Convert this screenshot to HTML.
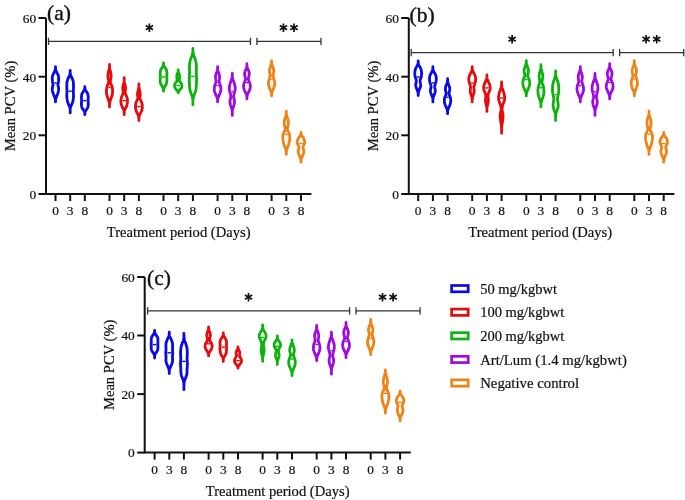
<!DOCTYPE html>
<html><head><meta charset="utf-8"><style>
html,body{margin:0;padding:0;background:#fff;}
svg{display:block;will-change:transform;}
text{font-family:"Liberation Serif",serif;stroke:#111;stroke-width:0.2px;}
</style></head><body>
<svg width="685" height="500" viewBox="0 0 685 500">
<rect width="685" height="500" fill="#fff"/>
<path d="M46.0,18.0 V194.0 H311.4" fill="none" stroke="#111" stroke-width="2"/>
<line x1="38.5" y1="194.0" x2="46.0" y2="194.0" stroke="#111" stroke-width="2"/>
<text x="36.2" y="198.8" text-anchor="end" font-size="13.4" font-family="Liberation Serif, serif" fill="#111">0</text>
<line x1="38.5" y1="135.3" x2="46.0" y2="135.3" stroke="#111" stroke-width="2"/>
<text x="36.2" y="140.1" text-anchor="end" font-size="13.4" font-family="Liberation Serif, serif" fill="#111">20</text>
<line x1="38.5" y1="76.7" x2="46.0" y2="76.7" stroke="#111" stroke-width="2"/>
<text x="36.2" y="81.5" text-anchor="end" font-size="13.4" font-family="Liberation Serif, serif" fill="#111">40</text>
<line x1="38.5" y1="18.0" x2="46.0" y2="18.0" stroke="#111" stroke-width="2"/>
<text x="36.2" y="22.8" text-anchor="end" font-size="13.4" font-family="Liberation Serif, serif" fill="#111">60</text>
<line x1="55.5" y1="194.0" x2="55.5" y2="201.0" stroke="#111" stroke-width="2"/>
<text x="55.5" y="215.0" text-anchor="middle" font-size="13.4" font-family="Liberation Serif, serif" fill="#111">0</text>
<line x1="70.2" y1="194.0" x2="70.2" y2="201.0" stroke="#111" stroke-width="2"/>
<text x="70.2" y="215.0" text-anchor="middle" font-size="13.4" font-family="Liberation Serif, serif" fill="#111">3</text>
<line x1="84.8" y1="194.0" x2="84.8" y2="201.0" stroke="#111" stroke-width="2"/>
<text x="84.8" y="215.0" text-anchor="middle" font-size="13.4" font-family="Liberation Serif, serif" fill="#111">8</text>
<line x1="109.5" y1="194.0" x2="109.5" y2="201.0" stroke="#111" stroke-width="2"/>
<text x="109.5" y="215.0" text-anchor="middle" font-size="13.4" font-family="Liberation Serif, serif" fill="#111">0</text>
<line x1="124.2" y1="194.0" x2="124.2" y2="201.0" stroke="#111" stroke-width="2"/>
<text x="124.2" y="215.0" text-anchor="middle" font-size="13.4" font-family="Liberation Serif, serif" fill="#111">3</text>
<line x1="138.9" y1="194.0" x2="138.9" y2="201.0" stroke="#111" stroke-width="2"/>
<text x="138.9" y="215.0" text-anchor="middle" font-size="13.4" font-family="Liberation Serif, serif" fill="#111">8</text>
<line x1="163.5" y1="194.0" x2="163.5" y2="201.0" stroke="#111" stroke-width="2"/>
<text x="163.5" y="215.0" text-anchor="middle" font-size="13.4" font-family="Liberation Serif, serif" fill="#111">0</text>
<line x1="178.2" y1="194.0" x2="178.2" y2="201.0" stroke="#111" stroke-width="2"/>
<text x="178.2" y="215.0" text-anchor="middle" font-size="13.4" font-family="Liberation Serif, serif" fill="#111">3</text>
<line x1="192.9" y1="194.0" x2="192.9" y2="201.0" stroke="#111" stroke-width="2"/>
<text x="192.9" y="215.0" text-anchor="middle" font-size="13.4" font-family="Liberation Serif, serif" fill="#111">8</text>
<line x1="217.6" y1="194.0" x2="217.6" y2="201.0" stroke="#111" stroke-width="2"/>
<text x="217.6" y="215.0" text-anchor="middle" font-size="13.4" font-family="Liberation Serif, serif" fill="#111">0</text>
<line x1="232.3" y1="194.0" x2="232.3" y2="201.0" stroke="#111" stroke-width="2"/>
<text x="232.3" y="215.0" text-anchor="middle" font-size="13.4" font-family="Liberation Serif, serif" fill="#111">3</text>
<line x1="246.9" y1="194.0" x2="246.9" y2="201.0" stroke="#111" stroke-width="2"/>
<text x="246.9" y="215.0" text-anchor="middle" font-size="13.4" font-family="Liberation Serif, serif" fill="#111">8</text>
<line x1="271.6" y1="194.0" x2="271.6" y2="201.0" stroke="#111" stroke-width="2"/>
<text x="271.6" y="215.0" text-anchor="middle" font-size="13.4" font-family="Liberation Serif, serif" fill="#111">0</text>
<line x1="286.3" y1="194.0" x2="286.3" y2="201.0" stroke="#111" stroke-width="2"/>
<text x="286.3" y="215.0" text-anchor="middle" font-size="13.4" font-family="Liberation Serif, serif" fill="#111">3</text>
<line x1="301.0" y1="194.0" x2="301.0" y2="201.0" stroke="#111" stroke-width="2"/>
<text x="301.0" y="215.0" text-anchor="middle" font-size="13.4" font-family="Liberation Serif, serif" fill="#111">8</text>
<text x="178.7" y="237.0" text-anchor="middle" font-size="14.6" font-family="Liberation Serif, serif" fill="#111">Treatment period (Days)</text>
<text transform="translate(15.0,106.0) rotate(-90)" text-anchor="middle" font-size="14.6" font-family="Liberation Serif, serif" fill="#111">Mean PCV (%)</text>
<text x="47.0" y="20.2" font-size="21.5" style="stroke-width:0.4px" font-family="Liberation Serif, serif" fill="#111">(a)</text>
<path d="M48.5,41.3 H250.5 M48.5,37.7 V44.9 M250.5,37.7 V44.9" fill="none" stroke="#333" stroke-width="1.3"/>
<path d="M256.9,41.3 H321.0 M256.9,37.7 V44.9 M321.0,37.7 V44.9" fill="none" stroke="#333" stroke-width="1.3"/>
<path d="M149.40,23.50 L149.40,31.90 M145.76,25.60 L153.04,29.80 M145.76,29.80 L153.04,25.60" stroke="#111" stroke-width="1.7"/>
<path d="M283.40,23.50 L283.40,31.90 M279.76,25.60 L287.04,29.80 M279.76,29.80 L287.04,25.60" stroke="#111" stroke-width="1.7"/>
<path d="M294.00,23.50 L294.00,31.90 M290.36,25.60 L297.64,29.80 M290.36,29.80 L297.64,25.60" stroke="#111" stroke-width="1.7"/>
<path d="M408.8,18.0 V194.0 H674.3" fill="none" stroke="#111" stroke-width="2"/>
<line x1="401.2" y1="194.0" x2="408.8" y2="194.0" stroke="#111" stroke-width="2"/>
<text x="398.9" y="198.8" text-anchor="end" font-size="13.4" font-family="Liberation Serif, serif" fill="#111">0</text>
<line x1="401.2" y1="135.3" x2="408.8" y2="135.3" stroke="#111" stroke-width="2"/>
<text x="398.9" y="140.1" text-anchor="end" font-size="13.4" font-family="Liberation Serif, serif" fill="#111">20</text>
<line x1="401.2" y1="76.7" x2="408.8" y2="76.7" stroke="#111" stroke-width="2"/>
<text x="398.9" y="81.5" text-anchor="end" font-size="13.4" font-family="Liberation Serif, serif" fill="#111">40</text>
<line x1="401.2" y1="18.0" x2="408.8" y2="18.0" stroke="#111" stroke-width="2"/>
<text x="398.9" y="22.8" text-anchor="end" font-size="13.4" font-family="Liberation Serif, serif" fill="#111">60</text>
<line x1="418.2" y1="194.0" x2="418.2" y2="201.0" stroke="#111" stroke-width="2"/>
<text x="418.2" y="215.0" text-anchor="middle" font-size="13.4" font-family="Liberation Serif, serif" fill="#111">0</text>
<line x1="432.9" y1="194.0" x2="432.9" y2="201.0" stroke="#111" stroke-width="2"/>
<text x="432.9" y="215.0" text-anchor="middle" font-size="13.4" font-family="Liberation Serif, serif" fill="#111">3</text>
<line x1="447.6" y1="194.0" x2="447.6" y2="201.0" stroke="#111" stroke-width="2"/>
<text x="447.6" y="215.0" text-anchor="middle" font-size="13.4" font-family="Liberation Serif, serif" fill="#111">8</text>
<line x1="472.2" y1="194.0" x2="472.2" y2="201.0" stroke="#111" stroke-width="2"/>
<text x="472.2" y="215.0" text-anchor="middle" font-size="13.4" font-family="Liberation Serif, serif" fill="#111">0</text>
<line x1="486.9" y1="194.0" x2="486.9" y2="201.0" stroke="#111" stroke-width="2"/>
<text x="486.9" y="215.0" text-anchor="middle" font-size="13.4" font-family="Liberation Serif, serif" fill="#111">3</text>
<line x1="501.6" y1="194.0" x2="501.6" y2="201.0" stroke="#111" stroke-width="2"/>
<text x="501.6" y="215.0" text-anchor="middle" font-size="13.4" font-family="Liberation Serif, serif" fill="#111">8</text>
<line x1="526.3" y1="194.0" x2="526.3" y2="201.0" stroke="#111" stroke-width="2"/>
<text x="526.3" y="215.0" text-anchor="middle" font-size="13.4" font-family="Liberation Serif, serif" fill="#111">0</text>
<line x1="540.9" y1="194.0" x2="540.9" y2="201.0" stroke="#111" stroke-width="2"/>
<text x="540.9" y="215.0" text-anchor="middle" font-size="13.4" font-family="Liberation Serif, serif" fill="#111">3</text>
<line x1="555.6" y1="194.0" x2="555.6" y2="201.0" stroke="#111" stroke-width="2"/>
<text x="555.6" y="215.0" text-anchor="middle" font-size="13.4" font-family="Liberation Serif, serif" fill="#111">8</text>
<line x1="580.3" y1="194.0" x2="580.3" y2="201.0" stroke="#111" stroke-width="2"/>
<text x="580.3" y="215.0" text-anchor="middle" font-size="13.4" font-family="Liberation Serif, serif" fill="#111">0</text>
<line x1="595.0" y1="194.0" x2="595.0" y2="201.0" stroke="#111" stroke-width="2"/>
<text x="595.0" y="215.0" text-anchor="middle" font-size="13.4" font-family="Liberation Serif, serif" fill="#111">3</text>
<line x1="609.7" y1="194.0" x2="609.7" y2="201.0" stroke="#111" stroke-width="2"/>
<text x="609.7" y="215.0" text-anchor="middle" font-size="13.4" font-family="Liberation Serif, serif" fill="#111">8</text>
<line x1="634.3" y1="194.0" x2="634.3" y2="201.0" stroke="#111" stroke-width="2"/>
<text x="634.3" y="215.0" text-anchor="middle" font-size="13.4" font-family="Liberation Serif, serif" fill="#111">0</text>
<line x1="649.0" y1="194.0" x2="649.0" y2="201.0" stroke="#111" stroke-width="2"/>
<text x="649.0" y="215.0" text-anchor="middle" font-size="13.4" font-family="Liberation Serif, serif" fill="#111">3</text>
<line x1="663.7" y1="194.0" x2="663.7" y2="201.0" stroke="#111" stroke-width="2"/>
<text x="663.7" y="215.0" text-anchor="middle" font-size="13.4" font-family="Liberation Serif, serif" fill="#111">8</text>
<text x="540.2" y="237.0" text-anchor="middle" font-size="14.6" font-family="Liberation Serif, serif" fill="#111">Treatment period (Days)</text>
<text transform="translate(377.8,106.0) rotate(-90)" text-anchor="middle" font-size="14.6" font-family="Liberation Serif, serif" fill="#111">Mean PCV (%)</text>
<text x="409.6" y="22.2" font-size="21.5" style="stroke-width:0.4px" font-family="Liberation Serif, serif" fill="#111">(b)</text>
<path d="M411.2,52.7 H613.2 M411.2,49.1 V56.3 M613.2,49.1 V56.3" fill="none" stroke="#333" stroke-width="1.3"/>
<path d="M619.6,52.7 H683.7 M619.6,49.1 V56.3 M683.7,49.1 V56.3" fill="none" stroke="#333" stroke-width="1.3"/>
<path d="M512.12,35.00 L512.12,43.40 M508.48,37.10 L515.76,41.30 M508.48,41.30 L515.76,37.10" stroke="#111" stroke-width="1.7"/>
<path d="M646.12,35.00 L646.12,43.40 M642.48,37.10 L649.76,41.30 M642.48,41.30 L649.76,37.10" stroke="#111" stroke-width="1.7"/>
<path d="M656.72,35.00 L656.72,43.40 M653.08,37.10 L660.36,41.30 M653.08,41.30 L660.36,37.10" stroke="#111" stroke-width="1.7"/>
<path d="M144.7,277.0 V452.6 H410.8" fill="none" stroke="#111" stroke-width="2"/>
<line x1="137.2" y1="452.6" x2="144.7" y2="452.6" stroke="#111" stroke-width="2"/>
<text x="134.8" y="457.4" text-anchor="end" font-size="13.4" font-family="Liberation Serif, serif" fill="#111">0</text>
<line x1="137.2" y1="394.1" x2="144.7" y2="394.1" stroke="#111" stroke-width="2"/>
<text x="134.8" y="398.9" text-anchor="end" font-size="13.4" font-family="Liberation Serif, serif" fill="#111">20</text>
<line x1="137.2" y1="335.5" x2="144.7" y2="335.5" stroke="#111" stroke-width="2"/>
<text x="134.8" y="340.3" text-anchor="end" font-size="13.4" font-family="Liberation Serif, serif" fill="#111">40</text>
<line x1="137.2" y1="277.0" x2="144.7" y2="277.0" stroke="#111" stroke-width="2"/>
<text x="134.8" y="281.8" text-anchor="end" font-size="13.4" font-family="Liberation Serif, serif" fill="#111">60</text>
<line x1="154.6" y1="452.6" x2="154.6" y2="459.6" stroke="#111" stroke-width="2"/>
<text x="154.6" y="473.6" text-anchor="middle" font-size="13.4" font-family="Liberation Serif, serif" fill="#111">0</text>
<line x1="169.3" y1="452.6" x2="169.3" y2="459.6" stroke="#111" stroke-width="2"/>
<text x="169.3" y="473.6" text-anchor="middle" font-size="13.4" font-family="Liberation Serif, serif" fill="#111">3</text>
<line x1="183.9" y1="452.6" x2="183.9" y2="459.6" stroke="#111" stroke-width="2"/>
<text x="183.9" y="473.6" text-anchor="middle" font-size="13.4" font-family="Liberation Serif, serif" fill="#111">8</text>
<line x1="208.6" y1="452.6" x2="208.6" y2="459.6" stroke="#111" stroke-width="2"/>
<text x="208.6" y="473.6" text-anchor="middle" font-size="13.4" font-family="Liberation Serif, serif" fill="#111">0</text>
<line x1="223.3" y1="452.6" x2="223.3" y2="459.6" stroke="#111" stroke-width="2"/>
<text x="223.3" y="473.6" text-anchor="middle" font-size="13.4" font-family="Liberation Serif, serif" fill="#111">3</text>
<line x1="238.0" y1="452.6" x2="238.0" y2="459.6" stroke="#111" stroke-width="2"/>
<text x="238.0" y="473.6" text-anchor="middle" font-size="13.4" font-family="Liberation Serif, serif" fill="#111">8</text>
<line x1="262.6" y1="452.6" x2="262.6" y2="459.6" stroke="#111" stroke-width="2"/>
<text x="262.6" y="473.6" text-anchor="middle" font-size="13.4" font-family="Liberation Serif, serif" fill="#111">0</text>
<line x1="277.3" y1="452.6" x2="277.3" y2="459.6" stroke="#111" stroke-width="2"/>
<text x="277.3" y="473.6" text-anchor="middle" font-size="13.4" font-family="Liberation Serif, serif" fill="#111">3</text>
<line x1="292.0" y1="452.6" x2="292.0" y2="459.6" stroke="#111" stroke-width="2"/>
<text x="292.0" y="473.6" text-anchor="middle" font-size="13.4" font-family="Liberation Serif, serif" fill="#111">8</text>
<line x1="316.7" y1="452.6" x2="316.7" y2="459.6" stroke="#111" stroke-width="2"/>
<text x="316.7" y="473.6" text-anchor="middle" font-size="13.4" font-family="Liberation Serif, serif" fill="#111">0</text>
<line x1="331.4" y1="452.6" x2="331.4" y2="459.6" stroke="#111" stroke-width="2"/>
<text x="331.4" y="473.6" text-anchor="middle" font-size="13.4" font-family="Liberation Serif, serif" fill="#111">3</text>
<line x1="346.0" y1="452.6" x2="346.0" y2="459.6" stroke="#111" stroke-width="2"/>
<text x="346.0" y="473.6" text-anchor="middle" font-size="13.4" font-family="Liberation Serif, serif" fill="#111">8</text>
<line x1="370.7" y1="452.6" x2="370.7" y2="459.6" stroke="#111" stroke-width="2"/>
<text x="370.7" y="473.6" text-anchor="middle" font-size="13.4" font-family="Liberation Serif, serif" fill="#111">0</text>
<line x1="385.4" y1="452.6" x2="385.4" y2="459.6" stroke="#111" stroke-width="2"/>
<text x="385.4" y="473.6" text-anchor="middle" font-size="13.4" font-family="Liberation Serif, serif" fill="#111">3</text>
<line x1="400.1" y1="452.6" x2="400.1" y2="459.6" stroke="#111" stroke-width="2"/>
<text x="400.1" y="473.6" text-anchor="middle" font-size="13.4" font-family="Liberation Serif, serif" fill="#111">8</text>
<text x="277.7" y="495.6" text-anchor="middle" font-size="14.6" font-family="Liberation Serif, serif" fill="#111">Treatment period (Days)</text>
<text transform="translate(113.7,364.8) rotate(-90)" text-anchor="middle" font-size="14.6" font-family="Liberation Serif, serif" fill="#111">Mean PCV (%)</text>
<text x="147.0" y="285.0" font-size="21.5" style="stroke-width:0.4px" font-family="Liberation Serif, serif" fill="#111">(c)</text>
<path d="M147.6,310.9 H349.6 M147.6,307.3 V314.5 M349.6,307.3 V314.5" fill="none" stroke="#333" stroke-width="1.3"/>
<path d="M356.0,310.9 H420.1 M356.0,307.3 V314.5 M420.1,307.3 V314.5" fill="none" stroke="#333" stroke-width="1.3"/>
<path d="M248.50,293.00 L248.50,301.40 M244.86,295.10 L252.14,299.30 M244.86,299.30 L252.14,295.10" stroke="#111" stroke-width="1.7"/>
<path d="M382.50,293.00 L382.50,301.40 M378.86,295.10 L386.14,299.30 M378.86,299.30 L386.14,295.10" stroke="#111" stroke-width="1.7"/>
<path d="M393.10,293.00 L393.10,301.40 M389.46,295.10 L396.74,299.30 M389.46,299.30 L396.74,295.10" stroke="#111" stroke-width="1.7"/>
<path d="M55.5,66.7 55.5,67.7 55.5,68.7 55.6,69.7 56.0,70.7 56.4,71.7 56.9,72.7 57.5,73.7 58.0,74.7 58.3,75.7 58.5,76.7 58.6,77.7 58.6,78.7 58.6,79.7 58.6,80.7 58.5,81.7 58.3,82.7 58.0,83.7 57.9,84.7 58.0,85.7 58.3,86.7 58.6,87.7 58.6,88.7 58.6,89.7 58.5,90.7 58.3,91.7 58.0,92.7 57.7,93.7 57.3,94.7 56.9,95.7 56.5,96.7 56.1,97.7 55.8,98.7 55.6,99.7 55.5,100.7 55.5,101.7 55.5,101.9 55.5,101.9 55.5,101.7 55.4,100.7 55.4,99.7 55.2,98.7 54.9,97.7 54.5,96.7 54.0,95.7 53.6,94.7 53.3,93.7 52.9,92.7 52.6,91.7 52.4,90.7 52.3,89.7 52.3,88.7 52.4,87.7 52.6,86.7 52.9,85.7 53.1,84.7 52.9,83.7 52.7,82.7 52.5,81.7 52.4,80.7 52.3,79.7 52.3,78.7 52.3,77.7 52.4,76.7 52.6,75.7 53.0,74.7 53.4,73.7 54.0,72.7 54.5,71.7 55.0,70.7 55.3,69.7 55.4,68.7 55.5,67.7 55.5,66.7Z" fill="#fff" stroke="#0a0ae6" stroke-width="2.8" stroke-linejoin="round"/>
<line x1="54.3" y1="82.9" x2="56.7" y2="82.9" stroke="#0a0ae6" stroke-width="1.4"/>
<path d="M70.2,70.5 70.2,71.5 70.2,72.5 70.2,73.5 70.4,74.5 70.8,75.5 71.2,76.5 71.7,77.5 72.2,78.5 72.6,79.5 73.0,80.5 73.2,81.5 73.4,82.5 73.4,83.5 73.5,84.5 73.5,85.5 73.5,86.5 73.5,87.5 73.4,88.5 73.4,89.5 73.3,90.5 73.3,91.5 73.4,92.5 73.4,93.5 73.5,94.5 73.5,95.5 73.5,96.5 73.4,97.5 73.4,98.5 73.2,99.5 73.1,100.5 72.8,101.5 72.5,102.5 72.1,103.5 71.7,104.5 71.3,105.5 70.8,106.5 70.5,107.5 70.2,108.5 70.2,109.5 70.2,110.5 70.2,111.5 70.2,112.5 70.2,112.9 70.2,112.9 70.2,112.5 70.2,111.5 70.2,110.5 70.2,109.5 70.1,108.5 69.9,107.5 69.5,106.5 69.0,105.5 68.6,104.5 68.2,103.5 67.8,102.5 67.5,101.5 67.3,100.5 67.1,99.5 67.0,98.5 66.9,97.5 66.8,96.5 66.8,95.5 66.8,94.5 66.9,93.5 66.9,92.5 67.0,91.5 67.0,90.5 66.9,89.5 66.9,88.5 66.8,87.5 66.8,86.5 66.8,85.5 66.8,84.5 66.9,83.5 66.9,82.5 67.1,81.5 67.4,80.5 67.7,79.5 68.1,78.5 68.6,77.5 69.1,76.5 69.5,75.5 69.9,74.5 70.1,73.5 70.1,72.5 70.2,71.5 70.2,70.5Z" fill="#fff" stroke="#0a0ae6" stroke-width="2.8" stroke-linejoin="round"/>
<line x1="68.6" y1="91.2" x2="71.7" y2="91.2" stroke="#0a0ae6" stroke-width="1.4"/>
<path d="M84.8,86.6 84.9,87.6 84.9,88.6 85.3,89.6 85.8,90.6 86.4,91.6 87.1,92.6 87.6,93.6 87.9,94.6 88.1,95.6 88.2,96.6 88.3,97.6 88.2,98.6 88.1,99.6 88.1,100.6 88.1,101.6 88.2,102.6 88.3,103.6 88.3,104.6 88.2,105.6 88.0,106.6 87.7,107.6 87.1,108.6 86.5,109.6 85.9,110.6 85.3,111.6 84.9,112.6 84.9,113.6 84.8,114.5 84.8,114.5 84.8,113.6 84.8,112.6 84.4,111.6 83.8,110.6 83.2,109.6 82.5,108.6 82.0,107.6 81.7,106.6 81.5,105.6 81.4,104.6 81.4,103.6 81.5,102.6 81.6,101.6 81.6,100.6 81.5,99.6 81.5,98.6 81.4,97.6 81.5,96.6 81.6,95.6 81.7,94.6 82.1,93.6 82.6,92.6 83.3,91.6 83.9,90.6 84.4,89.6 84.7,88.6 84.8,87.6 84.8,86.6Z" fill="#fff" stroke="#0a0ae6" stroke-width="2.8" stroke-linejoin="round"/>
<line x1="83.2" y1="100.6" x2="86.4" y2="100.6" stroke="#0a0ae6" stroke-width="1.4"/>
<path d="M109.5,64.5 109.5,65.5 109.5,66.5 109.5,67.5 109.7,68.5 109.9,69.5 110.1,70.5 110.4,71.5 110.7,72.5 110.9,73.5 111.0,74.5 111.1,75.5 111.1,76.5 111.0,77.5 110.8,78.5 110.6,79.5 110.4,80.5 110.4,81.5 110.4,82.5 110.7,83.5 111.2,84.5 111.6,85.5 111.9,86.5 112.2,87.5 112.4,88.5 112.5,89.5 112.6,90.5 112.6,91.5 112.5,92.5 112.4,93.5 112.3,94.5 112.0,95.5 111.7,96.5 111.4,97.5 111.0,98.5 110.6,99.5 110.3,100.5 110.0,101.5 109.7,102.5 109.6,103.5 109.5,104.5 109.5,105.5 109.5,106.5 109.5,106.9 109.5,106.9 109.5,106.5 109.5,105.5 109.5,104.5 109.5,103.5 109.3,102.5 109.0,101.5 108.7,100.5 108.4,99.5 108.0,98.5 107.6,97.5 107.3,96.5 107.0,95.5 106.7,94.5 106.6,93.5 106.5,92.5 106.4,91.5 106.4,90.5 106.5,89.5 106.6,88.5 106.8,87.5 107.1,86.5 107.4,85.5 107.8,84.5 108.3,83.5 108.6,82.5 108.7,81.5 108.6,80.5 108.4,79.5 108.2,78.5 108.0,77.5 107.9,76.5 107.9,75.5 108.0,74.5 108.1,73.5 108.3,72.5 108.6,71.5 108.9,70.5 109.2,69.5 109.3,68.5 109.5,67.5 109.5,66.5 109.5,65.5 109.5,64.5Z" fill="#fff" stroke="#e60a0a" stroke-width="2.8" stroke-linejoin="round"/>
<line x1="108.4" y1="87.5" x2="110.6" y2="87.5" stroke="#e60a0a" stroke-width="1.4"/>
<path d="M124.2,77.7 124.2,78.7 124.2,79.7 124.2,80.7 124.3,81.7 124.5,82.7 124.7,83.7 125.0,84.7 125.3,85.7 125.4,86.7 125.6,87.7 125.6,88.7 125.5,89.7 125.3,90.7 125.1,91.7 125.2,92.7 125.5,93.7 125.9,94.7 126.3,95.7 126.7,96.7 127.0,97.7 127.3,98.7 127.4,99.7 127.5,100.7 127.5,101.7 127.4,102.7 127.3,103.7 127.0,104.7 126.7,105.7 126.3,106.7 125.8,107.7 125.3,108.7 124.8,109.7 124.4,110.7 124.2,111.7 124.2,112.7 124.2,113.7 124.2,114.7 124.2,114.7 124.2,113.7 124.2,112.7 124.2,111.7 124.0,110.7 123.6,109.7 123.1,108.7 122.6,107.7 122.1,106.7 121.7,105.7 121.4,104.7 121.1,103.7 120.9,102.7 120.9,101.7 120.9,100.7 121.0,99.7 121.1,98.7 121.3,97.7 121.7,96.7 122.1,95.7 122.5,94.7 122.9,93.7 123.2,92.7 123.3,91.7 123.1,90.7 122.9,89.7 122.8,88.7 122.8,87.7 122.9,86.7 123.1,85.7 123.4,84.7 123.7,83.7 123.9,82.7 124.1,81.7 124.2,80.7 124.2,79.7 124.2,78.7 124.2,77.7Z" fill="#fff" stroke="#e60a0a" stroke-width="2.8" stroke-linejoin="round"/>
<line x1="122.5" y1="100.7" x2="125.9" y2="100.7" stroke="#e60a0a" stroke-width="1.4"/>
<path d="M138.9,83.9 138.9,84.9 138.9,85.9 138.9,86.9 139.1,87.9 139.2,88.9 139.5,89.9 139.8,90.9 140.0,91.9 140.2,92.9 140.2,93.9 140.2,94.9 140.1,95.9 139.9,96.9 139.8,97.9 140.0,98.9 140.5,99.9 141.0,100.9 141.4,101.9 141.8,102.9 142.1,103.9 142.2,104.9 142.3,105.9 142.3,106.9 142.3,107.9 142.1,108.9 141.9,109.9 141.6,110.9 141.2,111.9 140.6,112.9 140.1,113.9 139.6,114.9 139.2,115.9 139.0,116.9 138.9,117.9 138.9,118.9 138.9,119.9 138.9,120.6 138.9,120.6 138.9,119.9 138.9,118.9 138.8,117.9 138.7,116.9 138.5,115.9 138.1,114.9 137.6,113.9 137.1,112.9 136.6,111.9 136.2,110.9 135.9,109.9 135.6,108.9 135.5,107.9 135.5,106.9 135.5,105.9 135.5,104.9 135.7,103.9 135.9,102.9 136.3,101.9 136.8,100.9 137.3,99.9 137.7,98.9 137.9,97.9 137.9,96.9 137.7,95.9 137.5,94.9 137.5,93.9 137.6,92.9 137.7,91.9 138.0,90.9 138.3,89.9 138.5,88.9 138.7,87.9 138.8,86.9 138.9,85.9 138.9,84.9 138.9,83.9Z" fill="#fff" stroke="#e60a0a" stroke-width="2.8" stroke-linejoin="round"/>
<line x1="137.1" y1="106.6" x2="140.7" y2="106.6" stroke="#e60a0a" stroke-width="1.4"/>
<path d="M163.5,62.8 163.5,63.8 163.6,64.8 163.9,65.8 164.4,66.8 165.1,67.8 165.8,68.8 166.4,69.8 166.7,70.8 166.8,71.8 166.9,72.8 166.9,73.8 166.8,74.8 166.8,75.8 166.8,76.8 166.8,77.8 166.9,78.8 166.9,79.8 166.8,80.8 166.8,81.8 166.6,82.8 166.4,83.8 165.9,84.8 165.3,85.8 164.6,86.8 164.1,87.8 163.8,88.8 163.6,89.8 163.5,90.8 163.5,91.2 163.5,91.2 163.5,90.8 163.5,89.8 163.3,88.8 163.0,87.8 162.5,86.8 161.8,85.8 161.2,84.8 160.7,83.8 160.4,82.8 160.3,81.8 160.2,80.8 160.2,79.8 160.2,78.8 160.3,77.8 160.3,76.8 160.3,75.8 160.3,74.8 160.2,73.8 160.2,72.8 160.3,71.8 160.4,70.8 160.7,69.8 161.2,68.8 162.0,67.8 162.7,66.8 163.2,65.8 163.5,64.8 163.5,63.8 163.5,62.8Z" fill="#fff" stroke="#0ab40a" stroke-width="2.8" stroke-linejoin="round"/>
<line x1="161.9" y1="77.0" x2="165.2" y2="77.0" stroke="#0ab40a" stroke-width="1.4"/>
<path d="M178.2,69.8 178.2,70.8 178.3,71.8 178.6,72.8 179.0,73.8 179.4,74.8 179.7,75.8 179.8,76.8 179.7,77.8 179.4,78.8 179.1,79.8 179.3,80.8 180.0,81.8 180.9,82.8 181.5,83.8 181.8,84.8 181.9,85.8 181.8,86.8 181.5,87.8 180.8,88.8 179.9,89.8 179.0,90.8 178.5,91.8 178.2,92.8 178.2,92.8 178.0,91.8 177.4,90.8 176.5,89.8 175.7,88.8 175.0,87.8 174.7,86.8 174.5,85.8 174.6,84.8 175.0,83.8 175.6,82.8 176.4,81.8 177.1,80.8 177.3,79.8 177.0,78.8 176.8,77.8 176.7,76.8 176.8,75.8 177.0,74.8 177.4,73.8 177.8,72.8 178.1,71.8 178.2,70.8 178.2,69.8Z" fill="#fff" stroke="#0ab40a" stroke-width="2.8" stroke-linejoin="round"/>
<line x1="176.4" y1="85.5" x2="180.0" y2="85.5" stroke="#0ab40a" stroke-width="1.4"/>
<path d="M192.9,48.3 192.9,49.3 192.9,50.3 193.0,51.3 193.0,52.3 193.2,53.3 193.4,54.3 193.6,55.3 194.0,56.3 194.5,57.3 194.9,58.3 195.2,59.3 195.5,60.3 195.8,61.3 196.0,62.3 196.1,63.3 196.2,64.3 196.3,65.3 196.4,66.3 196.4,67.3 196.4,68.3 196.4,69.3 196.3,70.3 196.3,71.3 196.3,72.3 196.3,73.3 196.3,74.3 196.4,75.3 196.5,76.3 196.5,77.3 196.6,78.3 196.6,79.3 196.5,80.3 196.5,81.3 196.5,82.3 196.4,83.3 196.4,84.3 196.3,85.3 196.3,86.3 196.2,87.3 196.1,88.3 196.0,89.3 195.8,90.3 195.5,91.3 195.2,92.3 194.8,93.3 194.4,94.3 194.0,95.3 193.7,96.3 193.4,97.3 193.2,98.3 193.1,99.3 193.0,100.3 192.9,101.3 192.9,102.3 192.9,103.3 192.9,104.3 192.9,104.7 192.9,104.7 192.9,104.3 192.9,103.3 192.9,102.3 192.9,101.3 192.9,100.3 192.8,99.3 192.6,98.3 192.4,97.3 192.2,96.3 191.8,95.3 191.4,94.3 191.0,93.3 190.7,92.3 190.3,91.3 190.1,90.3 189.8,89.3 189.7,88.3 189.6,87.3 189.5,86.3 189.5,85.3 189.4,84.3 189.4,83.3 189.4,82.3 189.3,81.3 189.3,80.3 189.3,79.3 189.3,78.3 189.3,77.3 189.4,76.3 189.4,75.3 189.5,74.3 189.5,73.3 189.5,72.3 189.5,71.3 189.5,70.3 189.4,69.3 189.4,68.3 189.4,67.3 189.5,66.3 189.5,65.3 189.6,64.3 189.7,63.3 189.8,62.3 190.0,61.3 190.3,60.3 190.6,59.3 191.0,58.3 191.4,57.3 191.8,56.3 192.2,55.3 192.5,54.3 192.6,53.3 192.8,52.3 192.9,51.3 192.9,50.3 192.9,49.3 192.9,48.3Z" fill="#fff" stroke="#0ab40a" stroke-width="2.8" stroke-linejoin="round"/>
<line x1="191.1" y1="76.4" x2="194.7" y2="76.4" stroke="#0ab40a" stroke-width="1.4"/>
<path d="M217.6,66.7 217.6,67.7 217.6,68.7 217.7,69.7 217.9,70.7 218.3,71.7 218.7,72.7 219.0,73.7 219.3,74.7 219.5,75.7 219.6,76.7 219.6,77.7 219.4,78.7 219.3,79.7 219.1,80.7 219.1,81.7 219.3,82.7 219.8,83.7 220.1,84.7 220.4,85.7 220.6,86.7 220.8,87.7 220.9,88.7 220.9,89.7 220.7,90.7 220.5,91.7 220.2,92.7 219.8,93.7 219.4,94.7 218.9,95.7 218.5,96.7 218.1,97.7 217.8,98.7 217.6,99.7 217.6,100.7 217.6,101.7 217.6,101.9 217.6,101.9 217.6,101.7 217.6,100.7 217.5,99.7 217.4,98.7 217.1,97.7 216.7,96.7 216.2,95.7 215.8,94.7 215.3,93.7 214.9,92.7 214.6,91.7 214.4,90.7 214.3,89.7 214.3,88.7 214.4,87.7 214.5,86.7 214.7,85.7 215.0,84.7 215.4,83.7 215.8,82.7 216.0,81.7 216.0,80.7 215.9,79.7 215.7,78.7 215.6,77.7 215.5,76.7 215.6,75.7 215.8,74.7 216.1,73.7 216.5,72.7 216.9,71.7 217.2,70.7 217.4,69.7 217.5,68.7 217.6,67.7 217.6,66.7Z" fill="#fff" stroke="#a00ae0" stroke-width="2.8" stroke-linejoin="round"/>
<line x1="216.3" y1="85.6" x2="218.8" y2="85.6" stroke="#a00ae0" stroke-width="1.4"/>
<path d="M232.3,73.3 232.3,74.3 232.3,75.3 232.3,76.3 232.4,77.3 232.6,78.3 232.9,79.3 233.2,80.3 233.6,81.3 234.0,82.3 234.3,83.3 234.6,84.3 234.9,85.3 235.0,86.3 235.2,87.3 235.2,88.3 235.2,89.3 235.0,90.3 234.8,91.3 234.5,92.3 234.2,93.3 234.0,94.3 233.8,95.3 233.7,96.3 233.7,97.3 233.8,98.3 234.2,99.3 234.4,100.3 234.5,101.3 234.5,102.3 234.4,103.3 234.2,104.3 233.9,105.3 233.6,106.3 233.3,107.3 232.9,108.3 232.6,109.3 232.4,110.3 232.3,111.3 232.3,112.3 232.3,113.3 232.3,114.3 232.3,115.3 232.3,115.4 232.3,115.4 232.3,115.3 232.3,114.3 232.3,113.3 232.3,112.3 232.2,111.3 232.2,110.3 231.9,109.3 231.6,108.3 231.3,107.3 230.9,106.3 230.6,105.3 230.3,104.3 230.1,103.3 230.0,102.3 230.0,101.3 230.1,100.3 230.3,99.3 230.7,98.3 230.8,97.3 230.8,96.3 230.7,95.3 230.6,94.3 230.3,93.3 230.0,92.3 229.7,91.3 229.5,90.3 229.3,89.3 229.3,88.3 229.4,87.3 229.5,86.3 229.6,85.3 229.9,84.3 230.2,83.3 230.5,82.3 230.9,81.3 231.3,80.3 231.6,79.3 231.9,78.3 232.1,77.3 232.2,76.3 232.3,75.3 232.3,74.3 232.3,73.3Z" fill="#fff" stroke="#a00ae0" stroke-width="2.8" stroke-linejoin="round"/>
<line x1="231.4" y1="91.7" x2="233.1" y2="91.7" stroke="#a00ae0" stroke-width="1.4"/>
<path d="M246.9,63.7 246.9,64.7 247.0,65.7 247.1,66.7 247.3,67.7 247.6,68.7 248.1,69.7 248.6,70.7 248.9,71.7 249.2,72.7 249.3,73.7 249.2,74.7 249.1,75.7 248.8,76.7 248.5,77.7 248.3,78.7 248.4,79.7 248.8,80.7 249.2,81.7 249.6,82.7 250.0,83.7 250.2,84.7 250.3,85.7 250.3,86.7 250.2,87.7 250.0,88.7 249.7,89.7 249.3,90.7 248.8,91.7 248.3,92.7 247.8,93.7 247.4,94.7 247.1,95.7 247.0,96.7 247.0,97.7 246.9,98.7 246.9,98.9 246.9,98.9 246.9,98.7 246.9,97.7 246.9,96.7 246.8,95.7 246.5,94.7 246.1,93.7 245.6,92.7 245.1,91.7 244.6,90.7 244.2,89.7 243.9,88.7 243.7,87.7 243.6,86.7 243.6,85.7 243.7,84.7 243.9,83.7 244.3,82.7 244.7,81.7 245.1,80.7 245.5,79.7 245.6,78.7 245.4,77.7 245.1,76.7 244.8,75.7 244.7,74.7 244.6,73.7 244.7,72.7 245.0,71.7 245.3,70.7 245.8,69.7 246.3,68.7 246.6,67.7 246.8,66.7 246.9,65.7 246.9,64.7 246.9,63.7Z" fill="#fff" stroke="#a00ae0" stroke-width="2.8" stroke-linejoin="round"/>
<line x1="245.9" y1="82.6" x2="248.0" y2="82.6" stroke="#a00ae0" stroke-width="1.4"/>
<path d="M271.6,60.7 271.6,61.7 271.6,62.7 271.7,63.7 272.0,64.7 272.3,65.7 272.7,66.7 273.1,67.7 273.4,68.7 273.7,69.7 273.8,70.7 273.7,71.7 273.6,72.7 273.3,73.7 273.1,74.7 273.0,75.7 273.2,76.7 273.5,77.7 273.8,78.7 274.1,79.7 274.4,80.7 274.6,81.7 274.8,82.7 274.8,83.7 274.6,84.7 274.4,85.7 274.1,86.7 273.8,87.7 273.4,88.7 273.0,89.7 272.6,90.7 272.2,91.7 271.8,92.7 271.7,93.7 271.6,94.7 271.6,95.7 271.6,95.9 271.6,95.9 271.6,95.7 271.6,94.7 271.5,93.7 271.4,92.7 271.1,91.7 270.7,90.7 270.2,89.7 269.8,88.7 269.4,87.7 269.1,86.7 268.8,85.7 268.6,84.7 268.4,83.7 268.5,82.7 268.6,81.7 268.9,80.7 269.1,79.7 269.4,78.7 269.7,77.7 270.0,76.7 270.2,75.7 270.1,74.7 269.9,73.7 269.6,72.7 269.5,71.7 269.4,70.7 269.5,69.7 269.8,68.7 270.1,67.7 270.5,66.7 270.9,65.7 271.2,64.7 271.5,63.7 271.6,62.7 271.6,61.7 271.6,60.7Z" fill="#fff" stroke="#f08214" stroke-width="2.8" stroke-linejoin="round"/>
<line x1="270.7" y1="79.6" x2="272.5" y2="79.6" stroke="#f08214" stroke-width="1.4"/>
<path d="M286.3,111.2 286.3,112.2 286.3,113.2 286.4,114.2 286.6,115.2 286.9,116.2 287.2,117.2 287.6,118.2 287.9,119.2 288.1,120.2 288.3,121.2 288.4,122.2 288.4,123.2 288.3,124.2 288.1,125.2 287.9,126.2 287.6,127.2 287.4,128.2 287.3,129.2 287.5,130.2 288.0,131.2 288.5,132.2 289.0,133.2 289.3,134.2 289.6,135.2 289.7,136.2 289.8,137.2 289.8,138.2 289.7,139.2 289.6,140.2 289.4,141.2 289.2,142.2 289.0,143.2 288.7,144.2 288.4,145.2 288.0,146.2 287.6,147.2 287.2,148.2 286.8,149.2 286.5,150.2 286.4,151.2 286.3,152.2 286.3,153.2 286.3,154.2 286.3,154.4 286.3,154.4 286.3,154.2 286.3,153.2 286.3,152.2 286.2,151.2 286.0,150.2 285.7,149.2 285.4,148.2 285.0,147.2 284.6,146.2 284.2,145.2 283.9,144.2 283.6,143.2 283.4,142.2 283.2,141.2 283.0,140.2 282.9,139.2 282.8,138.2 282.8,137.2 282.9,136.2 283.0,135.2 283.2,134.2 283.6,133.2 284.1,132.2 284.6,131.2 285.1,130.2 285.3,129.2 285.2,128.2 285.0,127.2 284.7,126.2 284.5,125.2 284.3,124.2 284.2,123.2 284.2,122.2 284.3,121.2 284.5,120.2 284.7,119.2 285.0,118.2 285.4,117.2 285.7,116.2 286.0,115.2 286.2,114.2 286.3,113.2 286.3,112.2 286.3,111.2Z" fill="#fff" stroke="#f08214" stroke-width="2.8" stroke-linejoin="round"/>
<line x1="284.7" y1="134.5" x2="287.9" y2="134.5" stroke="#f08214" stroke-width="1.4"/>
<path d="M301.0,132.4 301.0,133.4 301.1,134.4 301.5,135.4 302.2,136.4 303.0,137.4 303.7,138.4 304.2,139.4 304.5,140.4 304.6,141.4 304.7,142.4 304.5,143.4 304.2,144.4 303.7,145.4 303.1,146.4 303.0,147.4 303.2,148.4 303.5,149.4 303.7,150.4 303.8,151.4 303.7,152.4 303.5,153.4 303.2,154.4 302.7,155.4 302.3,156.4 301.8,157.4 301.4,158.4 301.1,159.4 301.0,160.4 301.0,161.4 301.0,162.2 301.0,162.2 301.0,161.4 300.9,160.4 300.8,159.4 300.6,158.4 300.2,157.4 299.7,156.4 299.2,155.4 298.8,154.4 298.5,153.4 298.2,152.4 298.2,151.4 298.3,150.4 298.5,149.4 298.7,148.4 299.0,147.4 298.8,146.4 298.3,145.4 297.8,144.4 297.4,143.4 297.3,142.4 297.3,141.4 297.5,140.4 297.8,139.4 298.3,138.4 299.0,137.4 299.8,136.4 300.5,135.4 300.9,134.4 301.0,133.4 301.0,132.4Z" fill="#fff" stroke="#f08214" stroke-width="2.8" stroke-linejoin="round"/>
<line x1="299.2" y1="143.5" x2="302.8" y2="143.5" stroke="#f08214" stroke-width="1.4"/>
<path d="M418.2,60.9 418.2,61.9 418.2,62.9 418.4,63.9 418.8,64.9 419.2,65.9 419.9,66.9 420.5,67.9 420.9,68.9 421.2,69.9 421.4,70.9 421.5,71.9 421.6,72.9 421.6,73.9 421.5,74.9 421.4,75.9 421.2,76.9 420.8,77.9 420.5,78.9 420.2,79.9 420.1,80.9 420.2,81.9 420.4,82.9 420.5,83.9 420.7,84.9 420.6,85.9 420.4,86.9 420.0,87.9 419.6,88.9 419.2,89.9 418.8,90.9 418.5,91.9 418.3,92.9 418.2,93.9 418.2,94.9 418.2,95.5 418.2,95.5 418.2,94.9 418.2,93.9 418.1,92.9 417.9,91.9 417.5,90.9 417.1,89.9 416.8,88.9 416.4,87.9 416.0,86.9 415.8,85.9 415.7,84.9 415.8,83.9 416.0,82.9 416.2,81.9 416.3,80.9 416.2,79.9 415.9,78.9 415.6,77.9 415.2,76.9 415.0,75.9 414.8,74.9 414.8,73.9 414.8,72.9 414.9,71.9 415.0,70.9 415.2,69.9 415.5,68.9 415.9,67.9 416.5,66.9 417.1,65.9 417.6,64.9 418.0,63.9 418.1,62.9 418.2,61.9 418.2,60.9Z" fill="#fff" stroke="#0a0ae6" stroke-width="2.8" stroke-linejoin="round"/>
<line x1="416.8" y1="76.9" x2="419.6" y2="76.9" stroke="#0a0ae6" stroke-width="1.4"/>
<path d="M432.9,66.7 432.9,67.7 432.9,68.7 433.0,69.7 433.4,70.7 433.8,71.7 434.4,72.7 435.0,73.7 435.5,74.7 435.8,75.7 436.1,76.7 436.2,77.7 436.3,78.7 436.3,79.7 436.2,80.7 436.0,81.7 435.7,82.7 435.4,83.7 435.0,84.7 434.8,85.7 434.7,86.7 434.8,87.7 435.0,88.7 435.2,89.7 435.3,90.7 435.3,91.7 435.0,92.7 434.6,93.7 434.2,94.7 433.9,95.7 433.5,96.7 433.2,97.7 433.0,98.7 432.9,99.7 432.9,100.7 432.9,101.7 432.9,101.9 432.9,101.9 432.9,101.7 432.9,100.7 432.9,99.7 432.8,98.7 432.6,97.7 432.3,96.7 431.9,95.7 431.5,94.7 431.1,93.7 430.7,92.7 430.5,91.7 430.4,90.7 430.5,89.7 430.7,88.7 431.0,87.7 431.1,86.7 431.0,85.7 430.7,84.7 430.4,83.7 430.0,82.7 429.7,81.7 429.6,80.7 429.5,79.7 429.5,78.7 429.6,77.7 429.7,76.7 429.9,75.7 430.3,74.7 430.8,73.7 431.4,72.7 431.9,71.7 432.4,70.7 432.7,69.7 432.8,68.7 432.9,67.7 432.9,66.7Z" fill="#fff" stroke="#0a0ae6" stroke-width="2.8" stroke-linejoin="round"/>
<line x1="431.7" y1="82.9" x2="434.1" y2="82.9" stroke="#0a0ae6" stroke-width="1.4"/>
<path d="M447.6,78.7 447.6,79.7 447.6,80.7 447.7,81.7 448.0,82.7 448.3,83.7 448.7,84.7 449.1,85.7 449.4,86.7 449.6,87.7 449.8,88.7 449.7,89.7 449.5,90.7 449.3,91.7 449.1,92.7 449.0,93.7 449.2,94.7 449.7,95.7 450.1,96.7 450.4,97.7 450.6,98.7 450.7,99.7 450.8,100.7 450.7,101.7 450.6,102.7 450.3,103.7 450.0,104.7 449.6,105.7 449.2,106.7 448.7,107.7 448.3,108.7 448.0,109.7 447.7,110.7 447.6,111.7 447.6,112.7 447.6,113.7 447.6,113.7 447.6,112.7 447.5,111.7 447.4,110.7 447.2,109.7 446.8,108.7 446.4,107.7 445.9,106.7 445.5,105.7 445.1,104.7 444.8,103.7 444.5,102.7 444.4,101.7 444.4,100.7 444.4,99.7 444.5,98.7 444.7,97.7 445.1,96.7 445.5,95.7 445.9,94.7 446.1,93.7 446.1,92.7 445.8,91.7 445.6,90.7 445.4,89.7 445.4,88.7 445.5,87.7 445.7,86.7 446.0,85.7 446.4,84.7 446.8,83.7 447.2,82.7 447.4,81.7 447.5,80.7 447.6,79.7 447.6,78.7Z" fill="#fff" stroke="#0a0ae6" stroke-width="2.8" stroke-linejoin="round"/>
<line x1="446.4" y1="97.3" x2="448.7" y2="97.3" stroke="#0a0ae6" stroke-width="1.4"/>
<path d="M472.2,66.7 472.2,67.7 472.2,68.7 472.4,69.7 472.6,70.7 473.1,71.7 473.6,72.7 474.1,73.7 474.6,74.7 475.0,75.7 475.3,76.7 475.5,77.7 475.6,78.7 475.6,79.7 475.6,80.7 475.4,81.7 475.2,82.7 474.8,83.7 474.5,84.7 474.1,85.7 473.9,86.7 473.9,87.7 474.0,88.7 474.1,89.7 474.1,90.7 474.1,91.7 474.0,92.7 473.7,93.7 473.4,94.7 473.1,95.7 472.8,96.7 472.5,97.7 472.3,98.7 472.2,99.7 472.2,100.7 472.2,101.7 472.2,101.9 472.2,101.9 472.2,101.7 472.2,100.7 472.2,99.7 472.2,98.7 472.0,97.7 471.7,96.7 471.3,95.7 471.0,94.7 470.7,93.7 470.5,92.7 470.3,91.7 470.3,90.7 470.3,89.7 470.4,88.7 470.6,87.7 470.6,86.7 470.3,85.7 470.0,84.7 469.6,83.7 469.3,82.7 469.0,81.7 468.9,80.7 468.8,79.7 468.8,78.7 468.9,77.7 469.1,76.7 469.4,75.7 469.8,74.7 470.3,73.7 470.9,72.7 471.4,71.7 471.8,70.7 472.1,69.7 472.2,68.7 472.2,67.7 472.2,66.7Z" fill="#fff" stroke="#e60a0a" stroke-width="2.8" stroke-linejoin="round"/>
<line x1="470.9" y1="82.9" x2="473.6" y2="82.9" stroke="#e60a0a" stroke-width="1.4"/>
<path d="M486.9,74.9 486.9,75.9 486.9,76.9 487.0,77.9 487.2,78.9 487.6,79.9 488.0,80.9 488.5,81.9 488.9,82.9 489.4,83.9 489.8,84.9 490.0,85.9 490.1,86.9 490.2,87.9 490.1,88.9 489.9,89.9 489.6,90.9 489.1,91.9 488.6,92.9 488.3,93.9 488.1,94.9 488.0,95.9 488.0,96.9 488.2,97.9 488.3,98.9 488.4,99.9 488.3,100.9 488.2,101.9 488.1,102.9 487.8,103.9 487.6,104.9 487.3,105.9 487.1,106.9 486.9,107.9 486.9,108.9 486.9,109.9 486.9,110.9 486.9,111.4 486.9,111.4 486.9,110.9 486.9,109.9 486.9,108.9 486.9,107.9 486.8,106.9 486.5,105.9 486.3,104.9 486.0,103.9 485.8,102.9 485.6,101.9 485.5,100.9 485.4,99.9 485.5,98.9 485.7,97.9 485.8,96.9 485.8,95.9 485.7,94.9 485.5,93.9 485.2,92.9 484.7,91.9 484.3,90.9 483.9,89.9 483.7,88.9 483.6,87.9 483.7,86.9 483.8,85.9 484.0,84.9 484.4,83.9 484.9,82.9 485.4,81.9 485.8,80.9 486.2,79.9 486.6,78.9 486.8,77.9 486.9,76.9 486.9,75.9 486.9,74.9Z" fill="#fff" stroke="#e60a0a" stroke-width="2.8" stroke-linejoin="round"/>
<line x1="485.2" y1="87.9" x2="488.6" y2="87.9" stroke="#e60a0a" stroke-width="1.4"/>
<path d="M501.6,81.8 501.6,82.8 501.6,83.8 501.6,84.8 501.7,85.8 501.9,86.8 502.1,87.8 502.4,88.8 502.8,89.8 503.2,90.8 503.5,91.8 503.8,92.8 504.1,93.8 504.3,94.8 504.5,95.8 504.6,96.8 504.6,97.8 504.6,98.8 504.5,99.8 504.3,100.8 504.0,101.8 503.6,102.8 503.2,103.8 502.8,104.8 502.5,105.8 502.3,106.8 502.2,107.8 502.1,108.8 502.1,109.8 502.2,110.8 502.5,111.8 502.7,112.8 502.8,113.8 502.9,114.8 503.0,115.8 503.0,116.8 503.0,117.8 502.9,118.8 502.8,119.8 502.6,120.8 502.5,121.8 502.3,122.8 502.1,123.8 501.9,124.8 501.8,125.8 501.7,126.8 501.6,127.8 501.6,128.8 501.6,129.8 501.6,130.8 501.6,131.8 501.6,132.8 501.6,133.3 501.6,133.3 501.6,132.8 501.6,131.8 501.6,130.8 501.6,129.8 501.6,128.8 501.6,127.8 501.5,126.8 501.4,125.8 501.3,124.8 501.1,123.8 500.9,122.8 500.7,121.8 500.6,120.8 500.4,119.8 500.3,118.8 500.2,117.8 500.2,116.8 500.2,115.8 500.3,114.8 500.4,113.8 500.5,112.8 500.7,111.8 501.0,110.8 501.1,109.8 501.1,108.8 501.0,107.8 500.9,106.8 500.7,105.8 500.4,104.8 500.0,103.8 499.6,102.8 499.2,101.8 498.9,100.8 498.7,99.8 498.6,98.8 498.6,97.8 498.6,96.8 498.7,95.8 498.9,94.8 499.1,93.8 499.3,92.8 499.7,91.8 500.0,90.8 500.4,89.8 500.8,88.8 501.1,87.8 501.3,86.8 501.5,85.8 501.6,84.8 501.6,83.8 501.6,82.8 501.6,81.8Z" fill="#fff" stroke="#e60a0a" stroke-width="2.8" stroke-linejoin="round"/>
<line x1="500.2" y1="98.0" x2="503.0" y2="98.0" stroke="#e60a0a" stroke-width="1.4"/>
<path d="M526.3,60.7 526.3,61.7 526.3,62.7 526.4,63.7 526.7,64.7 527.1,65.7 527.5,66.7 527.8,67.7 528.1,68.7 528.4,69.7 528.5,70.7 528.4,71.7 528.3,72.7 528.0,73.7 527.8,74.7 527.6,75.7 527.9,76.7 528.3,77.7 528.8,78.7 529.2,79.7 529.4,80.7 529.6,81.7 529.7,82.7 529.7,83.7 529.6,84.7 529.4,85.7 529.1,86.7 528.8,87.7 528.3,88.7 527.8,89.7 527.4,90.7 526.9,91.7 526.6,92.7 526.3,93.7 526.3,94.7 526.3,95.7 526.3,95.9 526.3,95.9 526.3,95.7 526.3,94.7 526.2,93.7 526.0,92.7 525.6,91.7 525.1,90.7 524.7,89.7 524.2,88.7 523.8,87.7 523.4,86.7 523.1,85.7 522.9,84.7 522.8,83.7 522.8,82.7 522.9,81.7 523.1,80.7 523.3,79.7 523.7,78.7 524.2,77.7 524.6,76.7 524.9,75.7 524.8,74.7 524.5,73.7 524.3,72.7 524.1,71.7 524.1,70.7 524.2,69.7 524.4,68.7 524.7,67.7 525.1,66.7 525.5,65.7 525.8,64.7 526.1,63.7 526.2,62.7 526.3,61.7 526.3,60.7Z" fill="#fff" stroke="#0ab40a" stroke-width="2.8" stroke-linejoin="round"/>
<line x1="524.9" y1="79.6" x2="527.6" y2="79.6" stroke="#0ab40a" stroke-width="1.4"/>
<path d="M540.9,64.7 540.9,65.7 541.0,66.7 541.0,67.7 541.1,68.7 541.3,69.7 541.6,70.7 541.9,71.7 542.3,72.7 542.5,73.7 542.7,74.7 542.8,75.7 542.8,76.7 542.7,77.7 542.5,78.7 542.3,79.7 542.2,80.7 542.1,81.7 542.2,82.7 542.4,83.7 542.8,84.7 543.1,85.7 543.4,86.7 543.6,87.7 543.8,88.7 543.9,89.7 544.0,90.7 544.0,91.7 543.9,92.7 543.8,93.7 543.6,94.7 543.4,95.7 543.1,96.7 542.8,97.7 542.4,98.7 542.0,99.7 541.7,100.7 541.4,101.7 541.1,102.7 541.0,103.7 540.9,104.7 540.9,105.7 540.9,106.7 540.9,106.9 540.9,106.9 540.9,106.7 540.9,105.7 540.9,104.7 540.9,103.7 540.8,102.7 540.5,101.7 540.2,100.7 539.9,99.7 539.5,98.7 539.1,97.7 538.8,96.7 538.5,95.7 538.3,94.7 538.1,93.7 538.0,92.7 537.9,91.7 537.9,90.7 538.0,89.7 538.1,88.7 538.3,87.7 538.5,86.7 538.8,85.7 539.1,84.7 539.4,83.7 539.7,82.7 539.8,81.7 539.7,80.7 539.6,79.7 539.4,78.7 539.2,77.7 539.1,76.7 539.1,75.7 539.2,74.7 539.4,73.7 539.6,72.7 539.9,71.7 540.3,70.7 540.5,69.7 540.8,68.7 540.9,67.7 540.9,66.7 540.9,65.7 540.9,64.7Z" fill="#fff" stroke="#0ab40a" stroke-width="2.8" stroke-linejoin="round"/>
<line x1="539.8" y1="87.8" x2="542.1" y2="87.8" stroke="#0ab40a" stroke-width="1.4"/>
<path d="M555.6,71.0 555.6,72.0 555.6,73.0 555.6,74.0 555.7,75.0 555.9,76.0 556.1,77.0 556.4,78.0 556.8,79.0 557.2,80.0 557.6,81.0 557.9,82.0 558.2,83.0 558.4,84.0 558.5,85.0 558.6,86.0 558.7,87.0 558.7,88.0 558.8,89.0 558.8,90.0 558.7,91.0 558.7,92.0 558.5,93.0 558.4,94.0 558.2,95.0 558.0,96.0 557.7,97.0 557.5,98.0 557.5,99.0 557.6,100.0 557.7,101.0 557.9,102.0 558.0,103.0 558.1,104.0 558.2,105.0 558.2,106.0 558.1,107.0 557.8,108.0 557.5,109.0 557.2,110.0 556.8,111.0 556.4,112.0 556.1,113.0 555.9,114.0 555.8,115.0 555.7,116.0 555.6,117.0 555.6,118.0 555.6,119.0 555.6,120.0 555.6,120.5 555.6,120.5 555.6,120.0 555.6,119.0 555.6,118.0 555.6,117.0 555.6,116.0 555.5,115.0 555.4,114.0 555.2,113.0 554.9,112.0 554.5,111.0 554.1,110.0 553.7,109.0 553.5,108.0 553.2,107.0 553.1,106.0 553.1,105.0 553.1,104.0 553.3,103.0 553.4,102.0 553.5,101.0 553.7,100.0 553.8,99.0 553.7,98.0 553.6,97.0 553.3,96.0 553.1,95.0 552.9,94.0 552.7,93.0 552.6,92.0 552.5,91.0 552.5,90.0 552.5,89.0 552.5,88.0 552.6,87.0 552.6,86.0 552.7,85.0 552.9,84.0 553.1,83.0 553.4,82.0 553.7,81.0 554.1,80.0 554.5,79.0 554.8,78.0 555.1,77.0 555.4,76.0 555.6,75.0 555.6,74.0 555.6,73.0 555.6,72.0 555.6,71.0Z" fill="#fff" stroke="#0ab40a" stroke-width="2.8" stroke-linejoin="round"/>
<line x1="554.6" y1="94.6" x2="556.7" y2="94.6" stroke="#0ab40a" stroke-width="1.4"/>
<path d="M580.3,66.7 580.3,67.7 580.3,68.7 580.4,69.7 580.7,70.7 581.0,71.7 581.4,72.7 581.8,73.7 582.0,74.7 582.2,75.7 582.3,76.7 582.3,77.7 582.1,78.7 582.0,79.7 581.8,80.7 581.8,81.7 582.1,82.7 582.5,83.7 582.9,84.7 583.1,85.7 583.3,86.7 583.5,87.7 583.6,88.7 583.6,89.7 583.4,90.7 583.2,91.7 582.9,92.7 582.5,93.7 582.1,94.7 581.6,95.7 581.2,96.7 580.8,97.7 580.5,98.7 580.3,99.7 580.3,100.7 580.3,101.7 580.3,101.9 580.3,101.9 580.3,101.7 580.3,100.7 580.2,99.7 580.1,98.7 579.8,97.7 579.4,96.7 578.9,95.7 578.5,94.7 578.0,93.7 577.7,92.7 577.4,91.7 577.1,90.7 577.0,89.7 577.0,88.7 577.1,87.7 577.2,86.7 577.4,85.7 577.7,84.7 578.1,83.7 578.5,82.7 578.8,81.7 578.7,80.7 578.6,79.7 578.4,78.7 578.3,77.7 578.3,76.7 578.3,75.7 578.5,74.7 578.8,73.7 579.2,72.7 579.6,71.7 579.9,70.7 580.2,69.7 580.3,68.7 580.3,67.7 580.3,66.7Z" fill="#fff" stroke="#a00ae0" stroke-width="2.8" stroke-linejoin="round"/>
<line x1="579.0" y1="85.6" x2="581.5" y2="85.6" stroke="#a00ae0" stroke-width="1.4"/>
<path d="M595.0,73.3 595.0,74.3 595.0,75.3 595.0,76.3 595.1,77.3 595.3,78.3 595.6,79.3 596.0,80.3 596.3,81.3 596.7,82.3 597.1,83.3 597.4,84.3 597.6,85.3 597.8,86.3 597.9,87.3 597.9,88.3 597.9,89.3 597.7,90.3 597.5,91.3 597.2,92.3 596.9,93.3 596.7,94.3 596.5,95.3 596.4,96.3 596.4,97.3 596.6,98.3 596.9,99.3 597.1,100.3 597.2,101.3 597.2,102.3 597.2,103.3 596.9,104.3 596.6,105.3 596.3,106.3 596.0,107.3 595.6,108.3 595.3,109.3 595.1,110.3 595.0,111.3 595.0,112.3 595.0,113.3 595.0,114.3 595.0,115.3 595.0,115.4 595.0,115.4 595.0,115.3 595.0,114.3 595.0,113.3 595.0,112.3 595.0,111.3 594.9,110.3 594.7,109.3 594.3,108.3 594.0,107.3 593.6,106.3 593.3,105.3 593.0,104.3 592.8,103.3 592.7,102.3 592.7,101.3 592.8,100.3 593.1,99.3 593.4,98.3 593.6,97.3 593.6,96.3 593.5,95.3 593.3,94.3 593.0,93.3 592.7,92.3 592.5,91.3 592.2,90.3 592.1,89.3 592.0,88.3 592.1,87.3 592.2,86.3 592.4,85.3 592.6,84.3 592.9,83.3 593.3,82.3 593.6,81.3 594.0,80.3 594.3,79.3 594.6,78.3 594.8,77.3 594.9,76.3 595.0,75.3 595.0,74.3 595.0,73.3Z" fill="#fff" stroke="#a00ae0" stroke-width="2.8" stroke-linejoin="round"/>
<line x1="594.2" y1="91.7" x2="595.8" y2="91.7" stroke="#a00ae0" stroke-width="1.4"/>
<path d="M609.7,63.7 609.7,64.7 609.7,65.7 609.8,66.7 610.0,67.7 610.3,68.7 610.8,69.7 611.3,70.7 611.7,71.7 611.9,72.7 612.0,73.7 611.9,74.7 611.8,75.7 611.5,76.7 611.2,77.7 611.0,78.7 611.1,79.7 611.5,80.7 611.9,81.7 612.4,82.7 612.7,83.7 612.9,84.7 613.0,85.7 613.1,86.7 612.9,87.7 612.7,88.7 612.4,89.7 612.0,90.7 611.5,91.7 611.0,92.7 610.5,93.7 610.1,94.7 609.9,95.7 609.7,96.7 609.7,97.7 609.7,98.7 609.7,98.9 609.7,98.9 609.7,98.7 609.7,97.7 609.6,96.7 609.5,95.7 609.2,94.7 608.8,93.7 608.4,92.7 607.9,91.7 607.4,90.7 606.9,89.7 606.6,88.7 606.4,87.7 606.3,86.7 606.3,85.7 606.4,84.7 606.6,83.7 607.0,82.7 607.4,81.7 607.9,80.7 608.2,79.7 608.3,78.7 608.1,77.7 607.8,76.7 607.6,75.7 607.4,74.7 607.3,73.7 607.4,72.7 607.7,71.7 608.0,70.7 608.5,69.7 609.0,68.7 609.3,67.7 609.6,66.7 609.6,65.7 609.7,64.7 609.7,63.7Z" fill="#fff" stroke="#a00ae0" stroke-width="2.8" stroke-linejoin="round"/>
<line x1="608.6" y1="82.6" x2="610.8" y2="82.6" stroke="#a00ae0" stroke-width="1.4"/>
<path d="M634.3,60.7 634.3,61.7 634.4,62.7 634.5,63.7 634.7,64.7 635.1,65.7 635.5,66.7 635.8,67.7 636.2,68.7 636.4,69.7 636.5,70.7 636.5,71.7 636.3,72.7 636.1,73.7 635.8,74.7 635.7,75.7 635.9,76.7 636.2,77.7 636.6,78.7 636.8,79.7 637.1,80.7 637.3,81.7 637.5,82.7 637.5,83.7 637.3,84.7 637.1,85.7 636.8,86.7 636.5,87.7 636.1,88.7 635.7,89.7 635.3,90.7 634.9,91.7 634.6,92.7 634.4,93.7 634.3,94.7 634.3,95.7 634.3,95.9 634.3,95.9 634.3,95.7 634.3,94.7 634.3,93.7 634.1,92.7 633.8,91.7 633.4,90.7 632.9,89.7 632.5,88.7 632.1,87.7 631.8,86.7 631.6,85.7 631.3,84.7 631.2,83.7 631.2,82.7 631.3,81.7 631.6,80.7 631.8,79.7 632.1,78.7 632.4,77.7 632.8,76.7 632.9,75.7 632.8,74.7 632.6,73.7 632.4,72.7 632.2,71.7 632.1,70.7 632.2,69.7 632.5,68.7 632.8,67.7 633.2,66.7 633.6,65.7 633.9,64.7 634.2,63.7 634.3,62.7 634.3,61.7 634.3,60.7Z" fill="#fff" stroke="#f08214" stroke-width="2.8" stroke-linejoin="round"/>
<line x1="633.4" y1="79.6" x2="635.2" y2="79.6" stroke="#f08214" stroke-width="1.4"/>
<path d="M649.0,111.2 649.0,112.2 649.0,113.2 649.1,114.2 649.3,115.2 649.6,116.2 649.9,117.2 650.3,118.2 650.6,119.2 650.8,120.2 651.0,121.2 651.1,122.2 651.1,123.2 651.0,124.2 650.9,125.2 650.6,126.2 650.4,127.2 650.1,128.2 650.0,129.2 650.2,130.2 650.7,131.2 651.2,132.2 651.7,133.2 652.1,134.2 652.3,135.2 652.5,136.2 652.5,137.2 652.5,138.2 652.4,139.2 652.3,140.2 652.1,141.2 651.9,142.2 651.7,143.2 651.4,144.2 651.1,145.2 650.7,146.2 650.3,147.2 649.9,148.2 649.6,149.2 649.3,150.2 649.1,151.2 649.0,152.2 649.0,153.2 649.0,154.2 649.0,154.4 649.0,154.4 649.0,154.2 649.0,153.2 649.0,152.2 648.9,151.2 648.8,150.2 648.5,149.2 648.1,148.2 647.7,147.2 647.3,146.2 647.0,145.2 646.6,144.2 646.4,143.2 646.1,142.2 645.9,141.2 645.7,140.2 645.6,139.2 645.5,138.2 645.5,137.2 645.6,136.2 645.7,135.2 646.0,134.2 646.3,133.2 646.8,132.2 647.3,131.2 647.8,130.2 648.0,129.2 647.9,128.2 647.7,127.2 647.4,126.2 647.2,125.2 647.0,124.2 646.9,123.2 646.9,122.2 647.0,121.2 647.2,120.2 647.4,119.2 647.7,118.2 648.1,117.2 648.4,116.2 648.7,115.2 648.9,114.2 649.0,113.2 649.0,112.2 649.0,111.2Z" fill="#fff" stroke="#f08214" stroke-width="2.8" stroke-linejoin="round"/>
<line x1="647.5" y1="134.5" x2="650.6" y2="134.5" stroke="#f08214" stroke-width="1.4"/>
<path d="M663.7,132.4 663.7,133.4 663.8,134.4 664.2,135.4 664.9,136.4 665.7,137.4 666.4,138.4 666.9,139.4 667.2,140.4 667.3,141.4 667.4,142.4 667.3,143.4 666.9,144.4 666.4,145.4 665.9,146.4 665.7,147.4 665.9,148.4 666.2,149.4 666.4,150.4 666.5,151.4 666.4,152.4 666.2,153.4 665.9,154.4 665.5,155.4 665.0,156.4 664.5,157.4 664.1,158.4 663.9,159.4 663.7,160.4 663.7,161.4 663.7,162.2 663.7,162.2 663.7,161.4 663.7,160.4 663.5,159.4 663.3,158.4 662.9,157.4 662.4,156.4 661.9,155.4 661.5,154.4 661.2,153.4 661.0,152.4 660.9,151.4 661.0,150.4 661.2,149.4 661.5,148.4 661.7,147.4 661.6,146.4 661.0,145.4 660.5,144.4 660.2,143.4 660.0,142.4 660.1,141.4 660.2,140.4 660.5,139.4 661.0,138.4 661.7,137.4 662.5,136.4 663.2,135.4 663.6,134.4 663.7,133.4 663.7,132.4Z" fill="#fff" stroke="#f08214" stroke-width="2.8" stroke-linejoin="round"/>
<line x1="661.9" y1="143.5" x2="665.5" y2="143.5" stroke="#f08214" stroke-width="1.4"/>
<path d="M154.6,330.4 154.6,331.4 154.7,332.4 155.0,333.4 155.6,334.4 156.3,335.4 157.0,336.4 157.6,337.4 157.9,338.4 157.9,339.4 157.9,340.4 157.8,341.4 157.9,342.4 157.9,343.4 157.9,344.4 157.9,345.4 157.9,346.4 157.9,347.4 157.9,348.4 157.8,349.4 157.5,350.4 157.0,351.4 156.3,352.4 155.6,353.4 155.0,354.4 154.7,355.4 154.6,356.4 154.6,357.4 154.6,358.1 154.6,358.1 154.6,357.4 154.6,356.4 154.5,355.4 154.1,354.4 153.6,353.4 152.9,352.4 152.2,351.4 151.6,350.4 151.3,349.4 151.2,348.4 151.3,347.4 151.3,346.4 151.2,345.4 151.2,344.4 151.2,343.4 151.3,342.4 151.3,341.4 151.3,340.4 151.2,339.4 151.3,338.4 151.6,337.4 152.1,336.4 152.8,335.4 153.5,334.4 154.1,333.4 154.4,332.4 154.6,331.4 154.6,330.4Z" fill="#fff" stroke="#0a0ae6" stroke-width="2.8" stroke-linejoin="round"/>
<line x1="152.8" y1="344.6" x2="156.4" y2="344.6" stroke="#0a0ae6" stroke-width="1.4"/>
<path d="M169.3,332.2 169.3,333.2 169.3,334.2 169.4,335.2 169.6,336.2 170.1,337.2 170.6,338.2 171.1,339.2 171.5,340.2 171.9,341.2 172.2,342.2 172.4,343.2 172.5,344.2 172.6,345.2 172.6,346.2 172.6,347.2 172.5,348.2 172.5,349.2 172.6,350.2 172.6,351.2 172.7,352.2 172.7,353.2 172.7,354.2 172.6,355.2 172.5,356.2 172.5,357.2 172.5,358.2 172.6,359.2 172.6,360.2 172.5,361.2 172.4,362.2 172.0,363.2 171.7,364.2 171.3,365.2 170.8,366.2 170.4,367.2 170.0,368.2 169.6,369.2 169.4,370.2 169.3,371.2 169.3,372.2 169.3,373.2 169.3,373.6 169.3,373.6 169.3,373.2 169.2,372.2 169.2,371.2 169.1,370.2 168.9,369.2 168.6,368.2 168.1,367.2 167.7,366.2 167.2,365.2 166.8,364.2 166.5,363.2 166.2,362.2 166.0,361.2 165.9,360.2 166.0,359.2 166.0,358.2 166.0,357.2 166.0,356.2 165.9,355.2 165.9,354.2 165.8,353.2 165.8,352.2 165.9,351.2 166.0,350.2 166.0,349.2 166.0,348.2 166.0,347.2 165.9,346.2 165.9,345.2 166.0,344.2 166.1,343.2 166.3,342.2 166.6,341.2 167.0,340.2 167.4,339.2 167.9,338.2 168.4,337.2 168.9,336.2 169.2,335.2 169.2,334.2 169.3,333.2 169.3,332.2Z" fill="#fff" stroke="#0a0ae6" stroke-width="2.8" stroke-linejoin="round"/>
<line x1="167.5" y1="352.8" x2="171.1" y2="352.8" stroke="#0a0ae6" stroke-width="1.4"/>
<path d="M183.9,333.3 183.9,334.3 183.9,335.3 184.0,336.3 184.0,337.3 184.1,338.3 184.3,339.3 184.5,340.3 184.8,341.3 185.3,342.3 185.7,343.3 186.0,344.3 186.3,345.3 186.6,346.3 186.8,347.3 187.0,348.3 187.1,349.3 187.2,350.3 187.2,351.3 187.3,352.3 187.3,353.3 187.3,354.3 187.2,355.3 187.2,356.3 187.1,357.3 187.1,358.3 187.1,359.3 187.2,360.3 187.3,361.3 187.3,362.3 187.4,363.3 187.4,364.3 187.3,365.3 187.3,366.3 187.2,367.3 187.1,368.3 187.1,369.3 187.0,370.3 187.0,371.3 187.0,372.3 186.9,373.3 186.8,374.3 186.6,375.3 186.2,376.3 185.9,377.3 185.5,378.3 185.1,379.3 184.7,380.3 184.4,381.3 184.2,382.3 184.1,383.3 184.0,384.3 184.0,385.3 183.9,386.3 183.9,387.3 183.9,388.3 183.9,389.3 183.9,389.7 183.9,389.7 183.9,389.3 183.9,388.3 183.9,387.3 183.9,386.3 183.9,385.3 183.9,384.3 183.8,383.3 183.7,382.3 183.5,381.3 183.2,380.3 182.8,379.3 182.4,378.3 182.0,377.3 181.6,376.3 181.3,375.3 181.1,374.3 181.0,373.3 180.9,372.3 180.9,371.3 180.8,370.3 180.8,369.3 180.8,368.3 180.7,367.3 180.6,366.3 180.6,365.3 180.5,364.3 180.5,363.3 180.5,362.3 180.6,361.3 180.7,360.3 180.7,359.3 180.8,358.3 180.8,357.3 180.7,356.3 180.7,355.3 180.6,354.3 180.6,353.3 180.6,352.3 180.6,351.3 180.7,350.3 180.8,349.3 180.9,348.3 181.0,347.3 181.3,346.3 181.5,345.3 181.9,344.3 182.2,343.3 182.6,342.3 183.1,341.3 183.4,340.3 183.6,339.3 183.8,338.3 183.9,337.3 183.9,336.3 183.9,335.3 183.9,334.3 183.9,333.3Z" fill="#fff" stroke="#0a0ae6" stroke-width="2.8" stroke-linejoin="round"/>
<line x1="182.2" y1="361.4" x2="185.7" y2="361.4" stroke="#0a0ae6" stroke-width="1.4"/>
<path d="M208.6,326.8 208.6,327.8 208.7,328.8 208.9,329.8 209.2,330.8 209.6,331.8 210.0,332.8 210.2,333.8 210.4,334.8 210.4,335.8 210.2,336.8 209.9,337.8 209.7,338.8 209.7,339.8 209.9,340.8 210.4,341.8 211.1,342.8 211.7,343.8 212.0,344.8 212.1,345.8 212.1,346.8 211.9,347.8 211.5,348.8 211.0,349.8 210.4,350.8 209.7,351.8 209.2,352.8 208.8,353.8 208.7,354.8 208.6,355.8 208.6,355.9 208.6,355.9 208.6,355.8 208.6,354.8 208.4,353.8 208.0,352.8 207.5,351.8 206.8,350.8 206.2,349.8 205.7,348.8 205.3,347.8 205.1,346.8 205.1,345.8 205.2,344.8 205.5,343.8 206.1,342.8 206.8,341.8 207.3,340.8 207.5,339.8 207.5,338.8 207.3,337.8 207.0,336.8 206.8,335.8 206.8,334.8 207.0,333.8 207.2,332.8 207.6,331.8 208.0,330.8 208.3,329.8 208.5,328.8 208.6,327.8 208.6,326.8Z" fill="#fff" stroke="#e60a0a" stroke-width="2.8" stroke-linejoin="round"/>
<line x1="207.0" y1="343.8" x2="210.2" y2="343.8" stroke="#e60a0a" stroke-width="1.4"/>
<path d="M223.3,332.8 223.3,333.8 223.4,334.8 223.7,335.8 224.2,336.8 224.8,337.8 225.4,338.8 226.0,339.8 226.4,340.8 226.6,341.8 226.5,342.8 226.5,343.8 226.4,344.8 226.5,345.8 226.6,346.8 226.6,347.8 226.6,348.8 226.5,349.8 226.4,350.8 226.3,351.8 226.2,352.8 225.9,353.8 225.5,354.8 224.9,355.8 224.2,356.8 223.7,357.8 223.4,358.8 223.3,359.8 223.3,360.8 223.3,361.5 223.3,361.5 223.3,360.8 223.3,359.8 223.2,358.8 222.9,357.8 222.4,356.8 221.7,355.8 221.1,354.8 220.7,353.8 220.4,352.8 220.3,351.8 220.2,350.8 220.1,349.8 220.0,348.8 220.0,347.8 220.0,346.8 220.1,345.8 220.2,344.8 220.1,343.8 220.0,342.8 220.0,341.8 220.2,340.8 220.6,339.8 221.1,338.8 221.8,337.8 222.4,336.8 222.9,335.8 223.2,334.8 223.3,333.8 223.3,332.8Z" fill="#fff" stroke="#e60a0a" stroke-width="2.8" stroke-linejoin="round"/>
<line x1="221.6" y1="347.1" x2="225.0" y2="347.1" stroke="#e60a0a" stroke-width="1.4"/>
<path d="M238.0,346.8 238.0,347.8 238.2,348.8 238.7,349.8 239.2,350.8 239.7,351.8 239.8,352.8 239.8,353.8 239.6,354.8 239.5,355.8 239.8,356.8 240.4,357.8 241.0,358.8 241.4,359.8 241.5,360.8 241.4,361.8 241.0,362.8 240.3,363.8 239.4,364.8 238.6,365.8 238.1,366.8 238.0,367.8 238.0,368.2 238.0,368.2 238.0,367.8 237.8,366.8 237.4,365.8 236.6,364.8 235.7,363.8 235.0,362.8 234.6,361.8 234.5,360.8 234.6,359.8 235.0,358.8 235.5,357.8 236.1,356.8 236.5,355.8 236.4,354.8 236.2,353.8 236.1,352.8 236.3,351.8 236.7,350.8 237.3,349.8 237.7,348.8 237.9,347.8 238.0,346.8Z" fill="#fff" stroke="#e60a0a" stroke-width="2.8" stroke-linejoin="round"/>
<line x1="236.2" y1="360.6" x2="239.8" y2="360.6" stroke="#e60a0a" stroke-width="1.4"/>
<path d="M262.6,324.9 262.6,325.9 262.7,326.9 262.7,327.9 263.0,328.9 263.4,329.9 263.9,330.9 264.6,331.9 265.2,332.9 265.7,333.9 266.0,334.9 266.1,335.9 266.0,336.9 265.8,337.9 265.4,338.9 264.9,339.9 264.3,340.9 263.9,341.9 263.6,342.9 263.5,343.9 263.6,344.9 263.7,345.9 263.9,346.9 264.0,347.9 264.1,348.9 264.1,349.9 264.0,350.9 263.9,351.9 263.8,352.9 263.6,353.9 263.4,354.9 263.1,355.9 262.8,356.9 262.7,357.9 262.6,358.9 262.6,359.9 262.6,360.9 262.6,361.4 262.6,361.4 262.6,360.9 262.6,359.9 262.6,358.9 262.6,357.9 262.5,356.9 262.2,355.9 261.9,354.9 261.7,353.9 261.5,352.9 261.4,351.9 261.2,350.9 261.2,349.9 261.2,348.9 261.2,347.9 261.4,346.9 261.5,345.9 261.7,344.9 261.8,343.9 261.7,342.9 261.4,341.9 261.0,340.9 260.4,339.9 259.8,338.9 259.5,337.9 259.2,336.9 259.2,335.9 259.3,334.9 259.6,333.9 260.1,332.9 260.7,331.9 261.3,330.9 261.9,329.9 262.3,328.9 262.5,327.9 262.6,326.9 262.6,325.9 262.6,324.9Z" fill="#fff" stroke="#0ab40a" stroke-width="2.8" stroke-linejoin="round"/>
<line x1="260.9" y1="337.5" x2="264.4" y2="337.5" stroke="#0ab40a" stroke-width="1.4"/>
<path d="M277.3,335.8 277.3,336.8 277.4,337.8 277.6,338.8 278.0,339.8 278.7,340.8 279.4,341.8 280.0,342.8 280.4,343.8 280.6,344.8 280.5,345.8 280.2,346.8 279.6,347.8 279.0,348.8 278.6,349.8 278.4,350.8 278.5,351.8 278.7,352.8 279.0,353.8 279.1,354.8 279.1,355.8 279.0,356.8 278.7,357.8 278.2,358.8 277.8,359.8 277.5,360.8 277.4,361.8 277.3,362.8 277.3,363.8 277.3,364.5 277.3,364.5 277.3,363.8 277.3,362.8 277.3,361.8 277.2,360.8 276.9,359.8 276.4,358.8 276.0,357.8 275.7,356.8 275.5,355.8 275.5,354.8 275.7,353.8 275.9,352.8 276.2,351.8 276.2,350.8 276.0,349.8 275.6,348.8 275.0,347.8 274.5,346.8 274.2,345.8 274.1,344.8 274.2,343.8 274.6,342.8 275.3,341.8 276.0,340.8 276.6,339.8 277.1,338.8 277.3,337.8 277.3,336.8 277.3,335.8Z" fill="#fff" stroke="#0ab40a" stroke-width="2.8" stroke-linejoin="round"/>
<line x1="275.8" y1="346.2" x2="278.8" y2="346.2" stroke="#0ab40a" stroke-width="1.4"/>
<path d="M292.0,339.8 292.0,340.8 292.0,341.8 292.2,342.8 292.5,343.8 292.9,344.8 293.3,345.8 293.7,346.8 294.0,347.8 294.2,348.8 294.3,349.8 294.3,350.8 294.1,351.8 293.8,352.8 293.5,353.8 293.4,354.8 293.5,355.8 293.9,356.8 294.4,357.8 294.8,358.8 295.0,359.8 295.2,360.8 295.3,361.8 295.3,362.8 295.2,363.8 295.0,364.8 294.8,365.8 294.4,366.8 293.9,367.8 293.5,368.8 293.0,369.8 292.7,370.8 292.4,371.8 292.1,372.8 292.0,373.8 292.0,374.8 292.0,375.7 292.0,375.7 292.0,374.8 292.0,373.8 291.9,372.8 291.7,371.8 291.4,370.8 291.0,369.8 290.5,368.8 290.1,367.8 289.6,366.8 289.3,365.8 289.0,364.8 288.8,363.8 288.7,362.8 288.7,361.8 288.8,360.8 289.0,359.8 289.3,358.8 289.7,357.8 290.1,356.8 290.5,355.8 290.6,354.8 290.5,353.8 290.2,352.8 290.0,351.8 289.7,350.8 289.7,349.8 289.8,348.8 290.0,347.8 290.3,346.8 290.7,345.8 291.1,344.8 291.5,343.8 291.8,342.8 292.0,341.8 292.0,340.8 292.0,339.8Z" fill="#fff" stroke="#0ab40a" stroke-width="2.8" stroke-linejoin="round"/>
<line x1="290.7" y1="359.1" x2="293.3" y2="359.1" stroke="#0ab40a" stroke-width="1.4"/>
<path d="M316.7,325.5 316.7,326.5 316.7,327.5 316.8,328.5 317.0,329.5 317.4,330.5 317.8,331.5 318.1,332.5 318.4,333.5 318.6,334.5 318.7,335.5 318.7,336.5 318.5,337.5 318.4,338.5 318.2,339.5 318.2,340.5 318.4,341.5 318.9,342.5 319.2,343.5 319.5,344.5 319.7,345.5 319.9,346.5 320.0,347.5 320.0,348.5 319.8,349.5 319.6,350.5 319.3,351.5 318.9,352.5 318.5,353.5 318.0,354.5 317.6,355.5 317.2,356.5 316.9,357.5 316.7,358.5 316.7,359.5 316.7,360.5 316.7,360.7 316.7,360.7 316.7,360.5 316.7,359.5 316.6,358.5 316.5,357.5 316.2,356.5 315.8,355.5 315.3,354.5 314.9,353.5 314.4,352.5 314.0,351.5 313.7,350.5 313.5,349.5 313.4,348.5 313.4,347.5 313.5,346.5 313.6,345.5 313.8,344.5 314.1,343.5 314.5,342.5 314.9,341.5 315.1,340.5 315.1,339.5 315.0,338.5 314.8,337.5 314.7,336.5 314.6,335.5 314.7,334.5 314.9,333.5 315.2,332.5 315.6,331.5 316.0,330.5 316.3,329.5 316.5,328.5 316.6,327.5 316.7,326.5 316.7,325.5Z" fill="#fff" stroke="#a00ae0" stroke-width="2.8" stroke-linejoin="round"/>
<line x1="315.4" y1="344.4" x2="317.9" y2="344.4" stroke="#a00ae0" stroke-width="1.4"/>
<path d="M331.4,332.1 331.4,333.1 331.4,334.1 331.4,335.1 331.5,336.1 331.7,337.1 332.0,338.1 332.3,339.1 332.7,340.1 333.1,341.1 333.4,342.1 333.7,343.1 334.0,344.1 334.1,345.1 334.3,346.1 334.3,347.1 334.3,348.1 334.1,349.1 333.9,350.1 333.6,351.1 333.3,352.1 333.1,353.1 332.9,354.1 332.8,355.1 332.8,356.1 332.9,357.1 333.3,358.1 333.5,359.1 333.6,360.1 333.6,361.1 333.5,362.1 333.3,363.1 333.0,364.1 332.7,365.1 332.4,366.1 332.0,367.1 331.7,368.1 331.5,369.1 331.4,370.1 331.4,371.1 331.4,372.1 331.4,373.1 331.4,374.1 331.4,374.2 331.4,374.2 331.4,374.1 331.4,373.1 331.4,372.1 331.4,371.1 331.3,370.1 331.3,369.1 331.0,368.1 330.7,367.1 330.4,366.1 330.0,365.1 329.7,364.1 329.4,363.1 329.2,362.1 329.1,361.1 329.1,360.1 329.2,359.1 329.4,358.1 329.8,357.1 329.9,356.1 329.9,355.1 329.8,354.1 329.7,353.1 329.4,352.1 329.1,351.1 328.8,350.1 328.6,349.1 328.4,348.1 328.4,347.1 328.5,346.1 328.6,345.1 328.7,344.1 329.0,343.1 329.3,342.1 329.6,341.1 330.0,340.1 330.4,339.1 330.7,338.1 331.0,337.1 331.2,336.1 331.3,335.1 331.4,334.1 331.4,333.1 331.4,332.1Z" fill="#fff" stroke="#a00ae0" stroke-width="2.8" stroke-linejoin="round"/>
<line x1="330.5" y1="350.5" x2="332.2" y2="350.5" stroke="#a00ae0" stroke-width="1.4"/>
<path d="M346.0,322.5 346.0,323.5 346.1,324.5 346.2,325.5 346.4,326.5 346.7,327.5 347.2,328.5 347.7,329.5 348.0,330.5 348.3,331.5 348.4,332.5 348.3,333.5 348.2,334.5 347.9,335.5 347.6,336.5 347.4,337.5 347.5,338.5 347.9,339.5 348.3,340.5 348.7,341.5 349.1,342.5 349.3,343.5 349.4,344.5 349.4,345.5 349.3,346.5 349.1,347.5 348.8,348.5 348.4,349.5 347.9,350.5 347.4,351.5 346.9,352.5 346.5,353.5 346.2,354.5 346.1,355.5 346.1,356.5 346.0,357.5 346.0,357.7 346.0,357.7 346.0,357.5 346.0,356.5 346.0,355.5 345.9,354.5 345.6,353.5 345.2,352.5 344.7,351.5 344.2,350.5 343.7,349.5 343.3,348.5 343.0,347.5 342.8,346.5 342.7,345.5 342.7,344.5 342.8,343.5 343.0,342.5 343.4,341.5 343.8,340.5 344.2,339.5 344.6,338.5 344.7,337.5 344.5,336.5 344.2,335.5 343.9,334.5 343.8,333.5 343.7,332.5 343.8,331.5 344.1,330.5 344.4,329.5 344.9,328.5 345.4,327.5 345.7,326.5 345.9,325.5 346.0,324.5 346.0,323.5 346.0,322.5Z" fill="#fff" stroke="#a00ae0" stroke-width="2.8" stroke-linejoin="round"/>
<line x1="345.0" y1="341.4" x2="347.1" y2="341.4" stroke="#a00ae0" stroke-width="1.4"/>
<path d="M370.7,319.5 370.7,320.5 370.7,321.5 370.8,322.5 371.1,323.5 371.4,324.5 371.8,325.5 372.2,326.5 372.5,327.5 372.8,328.5 372.9,329.5 372.8,330.5 372.7,331.5 372.4,332.5 372.2,333.5 372.1,334.5 372.3,335.5 372.6,336.5 372.9,337.5 373.2,338.5 373.5,339.5 373.7,340.5 373.9,341.5 373.9,342.5 373.7,343.5 373.5,344.5 373.2,345.5 372.9,346.5 372.5,347.5 372.1,348.5 371.7,349.5 371.3,350.5 370.9,351.5 370.8,352.5 370.7,353.5 370.7,354.5 370.7,354.7 370.7,354.7 370.7,354.5 370.7,353.5 370.6,352.5 370.5,351.5 370.2,350.5 369.8,349.5 369.3,348.5 368.9,347.5 368.5,346.5 368.2,345.5 367.9,344.5 367.7,343.5 367.5,342.5 367.6,341.5 367.7,340.5 368.0,339.5 368.2,338.5 368.5,337.5 368.8,336.5 369.1,335.5 369.3,334.5 369.2,333.5 369.0,332.5 368.7,331.5 368.6,330.5 368.5,329.5 368.6,328.5 368.9,327.5 369.2,326.5 369.6,325.5 370.0,324.5 370.3,323.5 370.6,322.5 370.7,321.5 370.7,320.5 370.7,319.5Z" fill="#fff" stroke="#f08214" stroke-width="2.8" stroke-linejoin="round"/>
<line x1="369.8" y1="338.4" x2="371.6" y2="338.4" stroke="#f08214" stroke-width="1.4"/>
<path d="M385.4,370.0 385.4,371.0 385.4,372.0 385.5,373.0 385.7,374.0 386.0,375.0 386.3,376.0 386.7,377.0 387.0,378.0 387.2,379.0 387.4,380.0 387.5,381.0 387.5,382.0 387.4,383.0 387.2,384.0 387.0,385.0 386.7,386.0 386.5,387.0 386.4,388.0 386.6,389.0 387.1,390.0 387.6,391.0 388.1,392.0 388.4,393.0 388.7,394.0 388.8,395.0 388.9,396.0 388.9,397.0 388.8,398.0 388.7,399.0 388.5,400.0 388.3,401.0 388.1,402.0 387.8,403.0 387.5,404.0 387.1,405.0 386.7,406.0 386.3,407.0 385.9,408.0 385.6,409.0 385.5,410.0 385.4,411.0 385.4,412.0 385.4,413.0 385.4,413.2 385.4,413.2 385.4,413.0 385.4,412.0 385.4,411.0 385.3,410.0 385.1,409.0 384.8,408.0 384.5,407.0 384.1,406.0 383.7,405.0 383.3,404.0 383.0,403.0 382.7,402.0 382.5,401.0 382.3,400.0 382.1,399.0 382.0,398.0 381.9,397.0 381.9,396.0 382.0,395.0 382.1,394.0 382.3,393.0 382.7,392.0 383.2,391.0 383.7,390.0 384.2,389.0 384.4,388.0 384.3,387.0 384.1,386.0 383.8,385.0 383.6,384.0 383.4,383.0 383.3,382.0 383.3,381.0 383.4,380.0 383.6,379.0 383.8,378.0 384.1,377.0 384.5,376.0 384.8,375.0 385.1,374.0 385.3,373.0 385.4,372.0 385.4,371.0 385.4,370.0Z" fill="#fff" stroke="#f08214" stroke-width="2.8" stroke-linejoin="round"/>
<line x1="383.8" y1="393.3" x2="387.0" y2="393.3" stroke="#f08214" stroke-width="1.4"/>
<path d="M400.1,391.2 400.1,392.2 400.2,393.2 400.6,394.2 401.3,395.2 402.1,396.2 402.8,397.2 403.3,398.2 403.6,399.2 403.7,400.2 403.8,401.2 403.6,402.2 403.3,403.2 402.8,404.2 402.2,405.2 402.1,406.2 402.3,407.2 402.6,408.2 402.8,409.2 402.9,410.2 402.8,411.2 402.6,412.2 402.3,413.2 401.8,414.2 401.4,415.2 400.9,416.2 400.5,417.2 400.2,418.2 400.1,419.2 400.1,420.2 400.1,421.0 400.1,421.0 400.1,420.2 400.0,419.2 399.9,418.2 399.7,417.2 399.3,416.2 398.8,415.2 398.3,414.2 397.9,413.2 397.6,412.2 397.3,411.2 397.3,410.2 397.4,409.2 397.6,408.2 397.8,407.2 398.1,406.2 397.9,405.2 397.4,404.2 396.9,403.2 396.5,402.2 396.4,401.2 396.4,400.2 396.6,399.2 396.9,398.2 397.4,397.2 398.1,396.2 398.9,395.2 399.6,394.2 400.0,393.2 400.1,392.2 400.1,391.2Z" fill="#fff" stroke="#f08214" stroke-width="2.8" stroke-linejoin="round"/>
<line x1="398.3" y1="402.3" x2="401.9" y2="402.3" stroke="#f08214" stroke-width="1.4"/>
<rect x="451.6" y="285.5" width="16.6" height="6.3" fill="#fff" stroke="#0a0ae6" stroke-width="2.7"/>
<text x="480.2" y="293.7" font-size="14.5" font-family="Liberation Serif, serif" fill="#111">50 mg/kgbwt</text>
<rect x="451.6" y="309.1" width="16.6" height="6.3" fill="#fff" stroke="#e60a0a" stroke-width="2.7"/>
<text x="480.2" y="317.3" font-size="14.5" font-family="Liberation Serif, serif" fill="#111">100 mg/kgbwt</text>
<rect x="451.6" y="332.7" width="16.6" height="6.3" fill="#fff" stroke="#0ab40a" stroke-width="2.7"/>
<text x="480.2" y="340.9" font-size="14.5" font-family="Liberation Serif, serif" fill="#111">200 mg/kgbwt</text>
<rect x="451.6" y="356.3" width="16.6" height="6.3" fill="#fff" stroke="#a00ae0" stroke-width="2.7"/>
<text x="480.2" y="364.5" font-size="14.5" textLength="146.6" lengthAdjust="spacingAndGlyphs" font-family="Liberation Serif, serif" fill="#111">Art/Lum (1.4 mg/kgbwt)</text>
<rect x="451.6" y="379.9" width="16.6" height="6.3" fill="#fff" stroke="#f08214" stroke-width="2.7"/>
<text x="480.2" y="388.1" font-size="14.5" textLength="98.9" lengthAdjust="spacingAndGlyphs" font-family="Liberation Serif, serif" fill="#111">Negative control</text>
</svg>
</body></html>
